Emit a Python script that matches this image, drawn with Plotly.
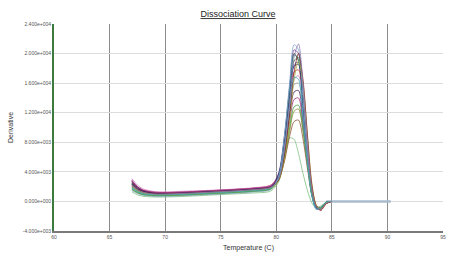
import plotly.graph_objects as go

# Temperature grid (C) shared by all wells
temps = [67.0, 67.5, 68.0, 69.0, 70.0, 72.0, 74.0, 76.0, 78.0, 79.5, 80.2, 80.7,
         81.2, 81.6, 82.0, 82.4, 82.8, 83.2, 83.6, 84.0, 84.5, 85.0]

well_01 = [2900, 2000, 1500, 1200, 1150, 1250, 1400, 1550, 1750, 2100, 3800, 8500, 15500, 20500, 20000, 14000, 6500, 1200, -900, -1000, -100, 0]
well_02 = [2500, 1800, 1400, 1100, 1100, 1200, 1350, 1500, 1700, 2000, 3500, 8000, 15000, 20000, 19000, 13000, 6000, 900, -1000, -900, -100, 0]
well_03 = [2000, 1400, 1100, 900, 900, 1000, 1150, 1300, 1500, 1800, 3200, 7500, 14000, 19000, 19500, 14500, 7000, 1500, -800, -1100, -200, 0]
well_04 = [2300, 1600, 1300, 1050, 1050, 1150, 1300, 1450, 1650, 1900, 3300, 7000, 13500, 18500, 18800, 13500, 6200, 1000, -900, -900, -100, 0]
well_05 = [2700, 1900, 1500, 1250, 1200, 1300, 1450, 1600, 1800, 2200, 3400, 7200, 13000, 17500, 17800, 13500, 7000, 1800, -600, -1200, -300, 0]
well_06 = [3100, 2200, 1700, 1350, 1300, 1400, 1500, 1650, 1850, 2200, 3300, 6800, 12500, 16500, 17000, 13000, 6800, 1500, -700, -1000, -200, 0]
well_07 = [1800, 1300, 1000, 850, 850, 950, 1100, 1250, 1450, 1750, 3400, 8200, 15200, 19800, 19200, 13200, 6000, 800, -1000, -800, -100, 0]
well_08 = [2200, 1600, 1250, 1000, 1000, 1100, 1250, 1400, 1600, 1900, 3000, 6500, 12000, 15800, 16000, 12000, 6000, 1200, -700, -900, -100, 0]
well_09 = [1300, 900, 700, 600, 600, 700, 850, 1000, 1150, 1400, 2600, 5600, 8600, 8400, 6500, 3800, 1500, -200, -900, -600, -100, 0]
well_10 = [2600, 1900, 1450, 1150, 1100, 1200, 1350, 1500, 1700, 2000, 3200, 6500, 11500, 14800, 15000, 11000, 5500, 1000, -800, -900, -100, 0]
well_11 = [1600, 1150, 900, 750, 750, 850, 1000, 1150, 1350, 1650, 2800, 5500, 9500, 12200, 12500, 9500, 5000, 1000, -700, -800, -100, 0]
well_12 = [2400, 1700, 1350, 1100, 1050, 1150, 1300, 1450, 1650, 1950, 3600, 7800, 14000, 18300, 18500, 13000, 6000, 1000, -900, -1000, -100, 0]
well_13 = [2800, 2000, 1550, 1250, 1200, 1300, 1450, 1600, 1800, 2100, 3200, 6200, 10800, 13800, 14000, 10500, 5500, 1200, -700, -1000, -200, 0]
well_14 = [1500, 1100, 850, 700, 700, 800, 950, 1100, 1300, 1600, 3300, 8400, 16000, 21200, 20500, 14000, 6200, 800, -1100, -900, -100, 0]
well_15 = [2100, 1500, 1200, 950, 950, 1050, 1200, 1350, 1550, 1850, 2900, 5200, 8800, 10800, 11000, 8500, 4500, 900, -600, -800, -100, 0]
well_16 = [1700, 1200, 950, 800, 800, 900, 1050, 1200, 1400, 1700, 2900, 5800, 10000, 12800, 13000, 9800, 5200, 1100, -700, -900, -100, 0]
well_17 = [2000, 1450, 1150, 950, 950, 1050, 1200, 1350, 1550, 1850, 2800, 5500, 11000, 16500, 19000, 16000, 9000, 2500, -500, -1100, -300, 0]
well_18 = [2300, 1650, 1300, 1050, 1000, 1100, 1250, 1400, 1600, 1900, 2900, 6000, 12000, 17500, 20000, 16500, 9000, 2200, -600, -1200, -300, 0]
well_19 = [1900, 1350, 1050, 900, 900, 1000, 1150, 1300, 1500, 1800, 3100, 6800, 12800, 16800, 16500, 11500, 5200, 700, -900, -800, -100, 0]
well_20 = [2200, 1600, 1250, 1000, 1000, 1100, 1250, 1400, 1600, 1900, 3000, 6800, 13500, 19500, 21300, 16000, 8000, 1800, -700, -1100, -200, 0]

# flat tail after melt
tail_temps = [84.5, 90.3]
tail_vals = [0, 0]

wells = [well_01, well_02, well_03, well_04, well_05, well_06, well_07, well_08, well_09, well_10,
         well_11, well_12, well_13, well_14, well_15, well_16, well_17, well_18, well_19, well_20]
colors = ["#7a3b8c", "#222222", "#2e6b3a", "#3050c0", "#c03040", "#d080c0", "#3a9a9a", "#999999",
          "#80c080", "#4a2060", "#8a8a30", "#1a2a6a", "#a03080", "#80a8d0", "#8a5030", "#40a040",
          "#b0b040", "#802020", "#40b0c0", "#9080b0"]

y_tickvals = [-4000, 0, 4000, 8000, 12000, 16000, 20000, 24000]
y_ticktext = ["-4.000e+003", "0.000e+000", "4.000e+003", "8.000e+003", "1.200e+004",
              "1.600e+004", "2.000e+004", "2.400e+004"]
x_tickvals = [60, 65, 70, 75, 80, 85, 90, 95]

fig = go.Figure()
fig.add_trace(go.Scatter(x=tail_temps, y=tail_vals, mode="lines",
                         line=dict(color="#a8bccc", width=2.5), hoverinfo="skip"))
for w, c in zip(wells, colors):
    fig.add_trace(go.Scatter(x=temps, y=w, mode="lines",
                             line=dict(color=c, width=0.8, shape="spline", smoothing=0.8)))

fig.update_layout(
    width=474, height=258,
    margin=dict(l=54, r=31, t=24, b=27, autoexpand=False),
    paper_bgcolor="white", plot_bgcolor="white",
    showlegend=False,
    font=dict(family="Liberation Sans, Arial, sans-serif", color="#444"),
    title=dict(text="<u>Dissociation Curve</u>", x=238/474, xanchor="center",
               y=1 - 14/258, yanchor="middle", font=dict(size=9, color="#222")),
)
fig.update_xaxes(range=[60, 95], tickvals=x_tickvals, ticktext=[str(v) for v in x_tickvals],
                 showgrid=True, gridcolor="#8c8c8c", gridwidth=1,
                 showline=True, linecolor="#7a7a7a", linewidth=1.5,
                 ticks="", tickfont=dict(size=5, color="#555"), automargin=False,
                 title=dict(text="Temperature (C)", font=dict(size=7, color="#333"), standoff=6),
                 zeroline=False)
fig.update_yaxes(range=[-4000, 24000], tickvals=y_tickvals, ticktext=y_ticktext,
                 showgrid=True, gridcolor="#dcdcdc", gridwidth=1,
                 showline=True, linecolor="#3d7a3d", linewidth=2,
                 ticks="", tickfont=dict(size=5, color="#555"), automargin=False,
                 title=dict(text="Derivative", font=dict(size=7, color="#333"), standoff=8),
                 zeroline=False)

fig.write_html("out.html")
